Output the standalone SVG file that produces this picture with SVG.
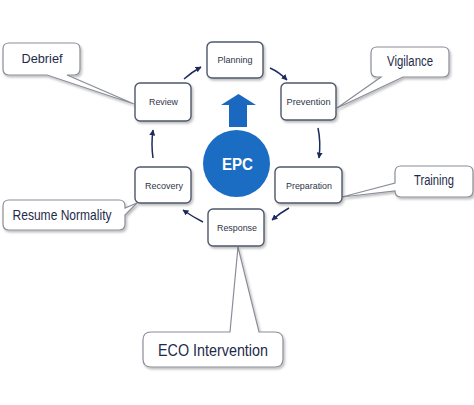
<svg xmlns="http://www.w3.org/2000/svg" width="474" height="405" viewBox="0 0 474 405">
<defs>
<marker id="ah" viewBox="0 0 10 10" refX="9" refY="5" markerWidth="6" markerHeight="6" markerUnits="userSpaceOnUse" orient="auto">
<path d="M0,0 L10,5 L0,10 Z" fill="#1c2a5c"/>
</marker>
<filter id="sh" x="-20%" y="-20%" width="140%" height="160%">
<feDropShadow dx="1.5" dy="2" stdDeviation="1.2" flood-color="#000" flood-opacity="0.25"/>
</filter>
<style>
.node rect{fill:#fff;stroke:#4e586c;stroke-width:1.4;filter:url(#sh)}
.node text{font-family:"Liberation Sans",Arial,sans-serif;font-size:9.5px;fill:#2e3548;text-anchor:middle}
.call path{fill:#fff;stroke:#8a8e98;stroke-width:1.2;filter:url(#sh)}
.call text{font-family:"Liberation Sans",Arial,sans-serif;fill:#1e2a4a;text-anchor:middle}
.conn path{fill:none;stroke:#1c2a5c;stroke-width:1.5;marker-end:url(#ah)}
</style>
</defs>
<rect width="474" height="405" fill="#fff"/>

<g id="callout-debrief" class="call">
<path d="M9,43 H74 Q80,43 80,49 V69 Q80,75 74,75 H67 L134,104 L47,75 H9 Q3,75 3,69 V49 Q3,43 9,43 Z"/>
<text x="42" y="63" font-size="13" textLength="41" lengthAdjust="spacingAndGlyphs">Debrief</text>
</g>
<g id="callout-vigilance" class="call">
<path d="M377,47 H443 Q449,47 449,53 V71 Q449,77 443,77 H403 L337,108 L381,77 H377 Q371,77 371,71 V53 Q371,47 377,47 Z"/>
<text x="410" y="66" font-size="14" textLength="46" lengthAdjust="spacingAndGlyphs">Vigilance</text>
</g>
<g id="callout-training" class="call">
<path d="M401,166 H467 Q473,166 473,172 V191 Q473,197 467,197 H401 Q395,197 395,191 L342,197 L395,183 V172 Q395,166 401,166 Z"/>
<text x="434" y="185" font-size="14" textLength="40" lengthAdjust="spacingAndGlyphs">Training</text>
</g>
<g id="callout-resume" class="call">
<path d="M9,200 H119 Q125,200 125,206 V208 L137,203 L125,215 V224 Q125,230 119,230 H9 Q3,230 3,224 V206 Q3,200 9,200 Z"/>
<text x="62" y="220" font-size="15" textLength="99" lengthAdjust="spacingAndGlyphs">Resume Normality</text>
</g>
<g id="callout-eco" class="call">
<path d="M151,332 H230 L238,247 L259,332 H275 Q283,332 283,340 V359 Q283,367 275,367 H151 Q143,367 143,359 V340 Q143,332 151,332 Z"/>
<text x="213" y="356" font-size="17" textLength="110" lengthAdjust="spacingAndGlyphs">ECO Intervention</text>
</g>

<g id="connectors" class="conn">
<path d="M184,79 Q192,72 201,67"/>
<path d="M270,68 Q279,72 287,80"/>
<path d="M318,128 Q321,142 319,158"/>
<path d="M289,208 Q280,213 272,220"/>
<path d="M203,222 Q193,217 183,210"/>
<path d="M153,158 Q151,144 153,130"/>
</g>

<g id="node-planning" class="node">
<rect x="207" y="42" width="56" height="36" rx="5"/>
<text x="235" y="63" textLength="35" lengthAdjust="spacingAndGlyphs">Planning</text>
</g>
<g id="node-prevention" class="node">
<rect x="281" y="83" width="55" height="37" rx="5"/>
<text x="308.5" y="105" textLength="44" lengthAdjust="spacingAndGlyphs">Prevention</text>
</g>
<g id="node-preparation" class="node">
<rect x="275" y="167" width="67" height="36" rx="5"/>
<text x="309" y="189" textLength="46" lengthAdjust="spacingAndGlyphs">Preparation</text>
</g>
<g id="node-response" class="node">
<rect x="208" y="209" width="56" height="37" rx="5"/>
<text x="237" y="231" textLength="40" lengthAdjust="spacingAndGlyphs">Response</text>
</g>
<g id="node-recovery" class="node">
<rect x="135" y="167" width="56" height="36" rx="5"/>
<text x="164" y="189" textLength="38" lengthAdjust="spacingAndGlyphs">Recovery</text>
</g>
<g id="node-review" class="node">
<rect x="135" y="83" width="56" height="38" rx="5"/>
<text x="163.5" y="105" textLength="29" lengthAdjust="spacingAndGlyphs">Review</text>
</g>

<g id="node-epc">
<polygon points="238.5,94 256,105 247,105 247,127 229,127 229,105 221,105" fill="#1a68bf"/>
<circle cx="236.5" cy="163.5" r="33.5" fill="#1a6dc2"/>
<text x="237.5" y="169.5" font-family="Liberation Sans,Arial,sans-serif" font-size="16" font-weight="bold" fill="#fff" text-anchor="middle" textLength="31" lengthAdjust="spacingAndGlyphs">EPC</text>
</g>
</svg>
